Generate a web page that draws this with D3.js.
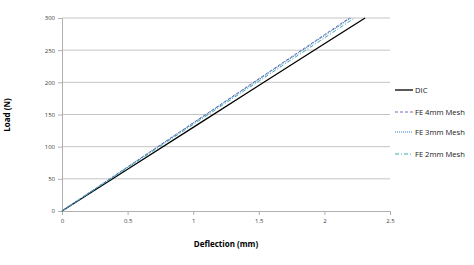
<!DOCTYPE html>
<html><head><meta charset="utf-8">
<script src="https://cdn.jsdelivr.net/npm/d3@7"></script>
<style>body{margin:0;background:#fff}svg{display:block}</style>
</head><body>
<svg id="c" width="474" height="265"></svg>
<script>
const xTicks = [0, 0.5, 1, 1.5, 2, 2.5];
const yTicks = [0, 50, 100, 150, 200, 250, 300];
const seriesNames = ["DIC", "FE 4mm Mesh", "FE 3mm Mesh", "FE 2mm Mesh"];
const dicX = [0, 0.5, 1, 1.5, 2, 2.31];
const dicY = [0, 65, 130, 195, 260, 300];
const fe4X = [0, 0.5, 1, 1.5, 2, 2.19];
const fe4Y = [0, 68.5, 137, 205.5, 274, 300];
const fe3X = [0, 0.5, 1, 1.5, 2, 2.2];
const fe3Y = [0, 68.2, 136.4, 204.5, 272.7, 300];
const fe2X = [0, 0.5, 1, 1.5, 2, 2.23];
const fe2Y = [0, 67.3, 134.5, 201.8, 269, 300];

const styles = [
  {color:"#000000", dash:null, w:1.3},
  {color:"#7a64b0", dash:"3,2", w:1},
  {color:"#2f7fd0", dash:"1,1", w:1.1},
  {color:"#3fa8a0", dash:"4,2,1,2", w:1}
];
const data = [[dicX,dicY],[fe4X,fe4Y],[fe3X,fe3Y],[fe2X,fe2Y]];

const svg = d3.select("#c");
const x = d3.scaleLinear().domain([0,2.5]).range([62,390]);
const y = d3.scaleLinear().domain([0,300]).range([211,18]);
const font = "'Open Sans', 'Liberation Sans', sans-serif";

// gridlines
svg.append("g").selectAll("line").data(yTicks.filter(d=>d>0)).join("line")
  .attr("x1",x(0)).attr("x2",x(2.5)).attr("y1",d=>y(d)).attr("y2",d=>y(d))
  .attr("stroke","#c4c4c4").attr("stroke-width",1);

// axes
const yAxis = d3.axisLeft(y).tickValues(yTicks).tickSize(4).tickFormat(d3.format("d"));
const gy = svg.append("g").attr("transform",`translate(${x(0)},0)`).call(yAxis);
const xAxis = d3.axisBottom(x).tickValues(xTicks).tickSize(4).tickFormat(d=>String(d));
const gx = svg.append("g").attr("transform",`translate(0,${y(0)})`).call(xAxis);
[gx,gy].forEach(g=>{
  g.select(".domain").attr("stroke","#b0b0b0");
  g.selectAll(".tick line").attr("stroke","#b0b0b0");
  g.selectAll(".tick text").attr("fill","#404040").attr("font-size","6px").attr("font-family",font);
});
gx.selectAll(".tick text").attr("dy","0.9em");

// lines
const line = d3.line().x(d=>x(d[0])).y(d=>y(d[1]));
data.forEach((s,i)=>{
  const pts = s[0].map((v,j)=>[v,s[1][j]]);
  svg.append("path").datum(pts).attr("d",line).attr("fill","none")
    .attr("stroke",styles[i].color).attr("stroke-width",styles[i].w)
    .attr("stroke-dasharray",styles[i].dash);
});

// axis titles
svg.append("text").attr("x",226).attr("y",247).attr("text-anchor","middle")
  .attr("font-family",font).attr("font-weight","bold").attr("font-size","8px").attr("fill","#000")
  .text("Deflection (mm)");
svg.append("text").attr("transform","translate(10,115) rotate(-90)").attr("text-anchor","middle")
  .attr("font-family",font).attr("font-weight","bold").attr("font-size","8px").attr("fill","#000")
  .text("Load (N)");

// legend
const legY = [90, 112, 132, 154];
const leg = svg.append("g");
seriesNames.forEach((n,i)=>{
  leg.append("line").attr("x1",395).attr("x2",413).attr("y1",legY[i]).attr("y2",legY[i])
    .attr("stroke",styles[i].color).attr("stroke-width",styles[i].w).attr("stroke-dasharray",styles[i].dash);
  leg.append("text").attr("x",415).attr("y",legY[i]).attr("dy","0.35em")
    .attr("font-family",font).attr("font-size","7.6px").attr("fill","#202020").text(n);
});
</script>
</body></html>
